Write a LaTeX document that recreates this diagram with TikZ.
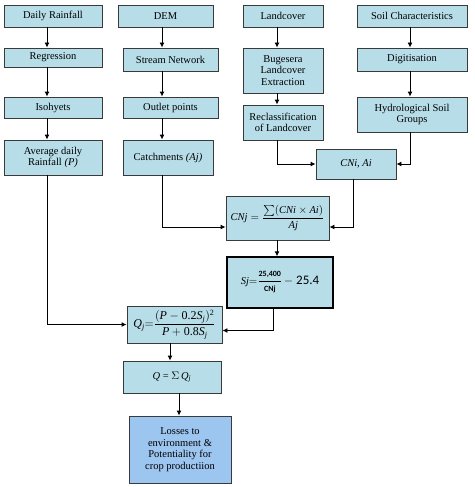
\documentclass[tikz,border=0pt]{standalone}
\usepackage{amsmath}
\usepackage{fontspec}
\setmainfont{Liberation Serif}
\newfontfamily\calib{Carlito}
\usetikzlibrary{arrows.meta}
\definecolor{boxfill}{HTML}{B7DDE8}
\definecolor{endfill}{HTML}{9CC5F0}
\definecolor{boxline}{HTML}{3A3A3A}
\newcommand{\tit}[1]{\text{\itshape #1}}

\begin{document}
\begin{tikzpicture}[x=1pt,y=-1pt,font=\fontsize{10.5}{11.5}\selectfont]
    \tikzstyle{box}=[rectangle,draw=boxline,line width=0.9pt,fill=boxfill,align=center,inner sep=1pt]
    \tikzstyle{arr}=[line width=0.9pt,-{Latex[length=5pt,width=5pt]}]
    \useasboundingbox (0,0) rectangle (474,487);

    % inputs and their processing
    \node[box,minimum width=98pt,minimum height=22pt] (rain) at (53,16) {Daily Rainfall};
    \node[box,minimum width=98pt,minimum height=19pt] (regr) at (53,57.5) {Regression};
    \node[box,minimum width=98pt,minimum height=21pt] (iso) at (53,107.5) {Isohyets};
    \node[box,minimum width=98pt,minimum height=35pt] (avg) at (53,157.5) {Average daily\\Rainfall \textit{(P)}};

    \node[box,minimum width=95pt,minimum height=22pt] (dem) at (165.5,16) {DEM};
    \node[box,minimum width=95pt,minimum height=23pt] (stream) at (170.5,59.5) {Stream Network};
    \node[box,minimum width=95pt,minimum height=21pt] (outlet) at (170.5,107.5) {Outlet points};
    \node[box,minimum width=90pt,minimum height=35pt] (catch) at (168,157.5) {Catchments \textit{(Aj)}};

    \node[box,minimum width=80pt,minimum height=22pt] (land) at (283,16) {Landcover};
    \node[box,minimum width=80pt,minimum height=45pt] (buges) at (283,70.5) {Bugesera\\Landcover\\Extraction};
    \node[box,minimum width=80pt,minimum height=35pt] (reclass) at (283,122.5) {Reclassification\\of Landcover};

    \node[box,minimum width=110pt,minimum height=22pt] (soil) at (412,16) {Soil Characteristics};
    \node[box,minimum width=110pt,minimum height=23pt] (digit) at (412,59.5) {Digitisation};
    \node[box,minimum width=110pt,minimum height=35pt] (hsg) at (412,114.5) {Hydrological Soil\\Groups};

    % curve number and runoff
    \node[box,minimum width=80pt,minimum height=30pt] (cni) at (356,164) {\textit{CNi, Ai}};
    \node[box,minimum width=103pt,minimum height=44pt] (cnj) at (277.5,218)
        {$\tit{CNj} = \dfrac{\sum(\tit{CNi}\times\tit{Ai})}{\tit{Aj}}$};
    \node[box,line width=1.4pt,draw=black,minimum width=106pt,minimum height=51pt] (sj) at (280,282.5)
        {$\tit{Sj}{=}\dfrac{\text{\calib\bfseries\footnotesize 25,400}}{\text{\calib\bfseries\footnotesize CNj}}$\,{\calib\fontsize{13}{14}\selectfont$-$ 25.4}};
    \node[box,minimum width=95pt,minimum height=37pt,font=\fontsize{12}{13}\selectfont] (qj) at (174.5,324.5)
        {$\tit{Q}_{\tit{j}}{=}\dfrac{(\tit{P}-\text{0.2}\tit{S}_{\tit{j}})^{\text{2}}}{\tit{P}+\text{0.8}\tit{S}_{\tit{j}}}$};
    \node[box,minimum width=98pt,minimum height=32pt] (q) at (172,377) {\textit{Q} = $\Sigma$\,\textit{Q}$_{\tit{j}}$};
    \node[box,fill=endfill,minimum width=102pt,minimum height=67pt] (loss) at (180,449.5) {Losses to\\environment \&\\Potentiality for\\crop productiion};

    % straight arrows down each column
    \foreach \from/\to/\x in {rain/regr/47, regr/iso/47, iso/avg/47, dem/stream/162, stream/outlet/162,
            outlet/catch/162, land/buges/277, buges/reclass/277, soil/digit/410, digit/hsg/410}
        \draw[arr] (\from.south -| \x,0) -- (\to.north -| \x,0);

    % elbows
    \draw[arr] (avg.south -| 47,0) |- (qj.west);
    \draw[arr] (catch.south -| 162,0) |- ([yshift=-9pt]cnj.west);
    \draw[arr] (reclass.south -| 277,0) |- (cni.west);
    \draw[arr] (hsg.south -| 410,0) |- (cni.east);
    \draw[arr] (cni.south -| 353,0) |- ([yshift=-9pt]cnj.east);
    \draw[arr] (cnj.south -| 277,0) -- (sj.north -| 277,0);
    \draw[arr] (sj.south -| 273,0) |- ([yshift=-6pt]qj.east);
    \draw[arr] (qj.south -| 170,0) -- (q.north -| 170,0);
    \draw[arr] (q.south -| 179,0) -- (loss.north -| 179,0);
\end{tikzpicture}
\end{document}
